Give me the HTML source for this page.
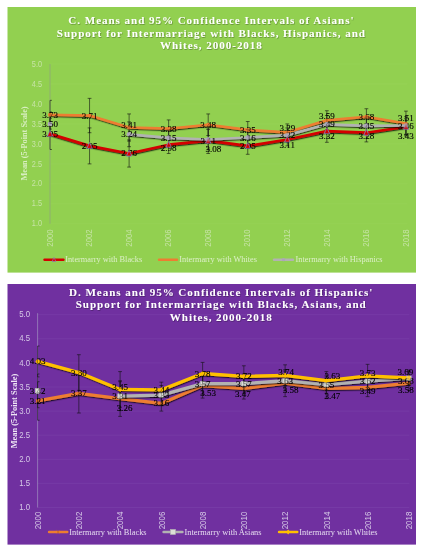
<!DOCTYPE html>
<html><head><meta charset="utf-8"><title>Intermarriage support charts</title>
<style>
html,body{margin:0;padding:0;background:#fff}
body{width:423px;height:550px;overflow:hidden}
svg{display:block}
</style></head>
<body>
<svg width="423" height="550" viewBox="0 0 423 550">
<defs>
<filter id="lsh" filterUnits="userSpaceOnUse" x="0" y="0" width="423" height="550"><feDropShadow dx="0.5" dy="1.2" stdDeviation="0.5" flood-color="#000" flood-opacity="0.7"/></filter>
<filter id="tsh" filterUnits="userSpaceOnUse" x="0" y="0" width="423" height="550"><feDropShadow dx="0.6" dy="0.8" stdDeviation="0.5" flood-color="#000" flood-opacity="0.35"/></filter>
</defs>
<rect x="0" y="0" width="423" height="550" fill="#fff"/>
<rect x="7.5" y="7" width="408.5" height="265.6" fill="#92d050"/>
<rect x="7.5" y="284" width="408.5" height="260.6" fill="#7030a0"/>
<g id="chartC">
<line x1="50" x2="407.45" y1="223.8" y2="223.8" stroke="#98d459" stroke-width="0.6"/>
<line x1="50" x2="407.45" y1="203.83" y2="203.83" stroke="#98d459" stroke-width="0.6"/>
<line x1="50" x2="407.45" y1="183.85" y2="183.85" stroke="#98d459" stroke-width="0.6"/>
<line x1="50" x2="407.45" y1="163.88" y2="163.88" stroke="#98d459" stroke-width="0.6"/>
<line x1="50" x2="407.45" y1="143.9" y2="143.9" stroke="#98d459" stroke-width="0.6"/>
<line x1="50" x2="407.45" y1="123.93" y2="123.93" stroke="#98d459" stroke-width="0.6"/>
<line x1="50" x2="407.45" y1="103.95" y2="103.95" stroke="#98d459" stroke-width="0.6"/>
<line x1="50" x2="407.45" y1="83.97" y2="83.97" stroke="#98d459" stroke-width="0.6"/>
<line x1="50" x2="407.45" y1="64" y2="64" stroke="#98d459" stroke-width="0.6"/>
<line x1="50" x2="50" y1="64" y2="223.8" stroke="#8fa678" stroke-width="0.8"/>
<text transform="translate(42,226.43) scale(1,1.12)" text-anchor="end" font-family="Liberation Sans, sans-serif" font-size="7.3" fill="#c6e3a5">1.0</text>
<text transform="translate(42,206.45) scale(1,1.12)" text-anchor="end" font-family="Liberation Sans, sans-serif" font-size="7.3" fill="#c6e3a5">1.5</text>
<text transform="translate(42,186.48) scale(1,1.12)" text-anchor="end" font-family="Liberation Sans, sans-serif" font-size="7.3" fill="#c6e3a5">2.0</text>
<text transform="translate(42,166.5) scale(1,1.12)" text-anchor="end" font-family="Liberation Sans, sans-serif" font-size="7.3" fill="#c6e3a5">2.5</text>
<text transform="translate(42,146.53) scale(1,1.12)" text-anchor="end" font-family="Liberation Sans, sans-serif" font-size="7.3" fill="#c6e3a5">3.0</text>
<text transform="translate(42,126.55) scale(1,1.12)" text-anchor="end" font-family="Liberation Sans, sans-serif" font-size="7.3" fill="#c6e3a5">3.5</text>
<text transform="translate(42,106.58) scale(1,1.12)" text-anchor="end" font-family="Liberation Sans, sans-serif" font-size="7.3" fill="#c6e3a5">4.0</text>
<text transform="translate(42,86.6) scale(1,1.12)" text-anchor="end" font-family="Liberation Sans, sans-serif" font-size="7.3" fill="#c6e3a5">4.5</text>
<text transform="translate(42,66.63) scale(1,1.12)" text-anchor="end" font-family="Liberation Sans, sans-serif" font-size="7.3" fill="#c6e3a5">5.0</text>
<text transform="translate(52.67,229.3) rotate(-90) scale(1,1.1)" text-anchor="end" font-family="Liberation Sans, sans-serif" font-size="7.8" fill="#c6e3a5">2000</text>
<text transform="translate(92.22,229.3) rotate(-90) scale(1,1.1)" text-anchor="end" font-family="Liberation Sans, sans-serif" font-size="7.8" fill="#c6e3a5">2002</text>
<text transform="translate(131.77,229.3) rotate(-90) scale(1,1.1)" text-anchor="end" font-family="Liberation Sans, sans-serif" font-size="7.8" fill="#c6e3a5">2004</text>
<text transform="translate(171.32,229.3) rotate(-90) scale(1,1.1)" text-anchor="end" font-family="Liberation Sans, sans-serif" font-size="7.8" fill="#c6e3a5">2006</text>
<text transform="translate(210.87,229.3) rotate(-90) scale(1,1.1)" text-anchor="end" font-family="Liberation Sans, sans-serif" font-size="7.8" fill="#c6e3a5">2008</text>
<text transform="translate(250.42,229.3) rotate(-90) scale(1,1.1)" text-anchor="end" font-family="Liberation Sans, sans-serif" font-size="7.8" fill="#c6e3a5">2010</text>
<text transform="translate(289.97,229.3) rotate(-90) scale(1,1.1)" text-anchor="end" font-family="Liberation Sans, sans-serif" font-size="7.8" fill="#c6e3a5">2012</text>
<text transform="translate(329.52,229.3) rotate(-90) scale(1,1.1)" text-anchor="end" font-family="Liberation Sans, sans-serif" font-size="7.8" fill="#c6e3a5">2014</text>
<text transform="translate(369.07,229.3) rotate(-90) scale(1,1.1)" text-anchor="end" font-family="Liberation Sans, sans-serif" font-size="7.8" fill="#c6e3a5">2016</text>
<text transform="translate(408.62,229.3) rotate(-90) scale(1,1.1)" text-anchor="end" font-family="Liberation Sans, sans-serif" font-size="7.8" fill="#c6e3a5">2018</text>
<text transform="translate(27,143.5) rotate(-90)" text-anchor="middle" font-family="Liberation Serif, serif" font-weight="bold" font-size="8.3" fill="#d8eec0">Mean (5-Point Scale)</text>
<text x="211.4" y="24.2" text-anchor="middle" font-family="Liberation Serif, serif" font-weight="bold" font-size="11.06" letter-spacing="0.96" fill="#fff" filter="url(#tsh)">C. Means and 95% Confidence Intervals of Asians'</text>
<text x="211.4" y="36.7" text-anchor="middle" font-family="Liberation Serif, serif" font-weight="bold" font-size="11.06" letter-spacing="0.96" fill="#fff" filter="url(#tsh)">Support for Intermarriage with Blacks, Hispanics, and</text>
<text x="211.4" y="49.2" text-anchor="middle" font-family="Liberation Serif, serif" font-weight="bold" font-size="11.06" letter-spacing="0.96" fill="#fff" filter="url(#tsh)">Whites, 2000-2018</text>
<g filter="url(#lsh)"><polyline points="50,133.91 89.55,145.9 129.1,153.49 168.65,144.7 208.2,140.7 247.75,145.9 287.3,139.51 326.85,131.12 366.4,132.71 405.95,126.72" fill="none" stroke="#d40000" stroke-width="2.7" stroke-linejoin="round" stroke-linecap="round"/></g>
<path d="M50 118.33V149.49M50 118.33H51.9M50 149.49H51.9M89.55 127.92V163.88M87.65 127.92H91.45M87.65 163.88H91.45M129.1 139.91V167.07M127.2 139.91H131M127.2 167.07H131M168.65 135.91V153.49M166.75 135.91H170.55M166.75 153.49H170.55M208.2 127.92V153.49M206.3 127.92H210.1M206.3 153.49H210.1M247.75 137.51V154.29M245.85 137.51H249.65M245.85 154.29H249.65M287.3 133.11V145.9M285.4 133.11H289.2M285.4 145.9H289.2M326.85 119.93V142.3M324.95 119.93H328.75M324.95 142.3H328.75M366.4 123.53V141.9M364.5 123.53H368.3M364.5 141.9H368.3M405.95 118.73V134.71M404.05 118.73H407.85M404.05 134.71H407.85" stroke="#111" stroke-width="0.6" fill="none"/>
<g><path d="M50 130.66L52.6 136.38H47.4Z" fill="#e00000" stroke="#7d92d4" stroke-width="0.6"/><path d="M89.55 142.65L92.15 148.37H86.95Z" fill="#e00000" stroke="#7d92d4" stroke-width="0.6"/><path d="M129.1 150.24L131.7 155.96H126.5Z" fill="#e00000" stroke="#7d92d4" stroke-width="0.6"/><path d="M168.65 141.45L171.25 147.17H166.05Z" fill="#e00000" stroke="#7d92d4" stroke-width="0.6"/><path d="M208.2 137.45L210.8 143.17H205.6Z" fill="#e00000" stroke="#7d92d4" stroke-width="0.6"/><path d="M247.75 142.65L250.35 148.37H245.15Z" fill="#e00000" stroke="#7d92d4" stroke-width="0.6"/><path d="M287.3 136.26L289.9 141.98H284.7Z" fill="#e00000" stroke="#7d92d4" stroke-width="0.6"/><path d="M326.85 127.87L329.45 133.59H324.25Z" fill="#e00000" stroke="#7d92d4" stroke-width="0.6"/><path d="M366.4 129.46L369 135.18H363.8Z" fill="#e00000" stroke="#7d92d4" stroke-width="0.6"/><path d="M405.95 123.47L408.55 129.19H403.35Z" fill="#e00000" stroke="#7d92d4" stroke-width="0.6"/></g>
<g filter="url(#lsh)"><polyline points="50,114.74 89.55,115.54 129.1,127.52 168.65,128.72 208.2,124.72 247.75,129.92 287.3,132.31 326.85,120.33 366.4,116.73 405.95,123.53" fill="none" stroke="#ed7d31" stroke-width="2.7" stroke-linejoin="round" stroke-linecap="round"/></g>
<path d="M50 100.35V129.12M50 100.35H51.9M50 129.12H51.9M89.55 98.36V132.71M87.65 98.36H91.45M87.65 132.71H91.45M129.1 113.94V141.1M127.2 113.94H131M127.2 141.1H131M168.65 119.93V137.51M166.75 119.93H170.55M166.75 137.51H170.55M208.2 113.94V135.51M206.3 113.94H210.1M206.3 135.51H210.1M247.75 121.53V138.31M245.85 121.53H249.65M245.85 138.31H249.65M287.3 123.93V140.7M285.4 123.93H289.2M285.4 140.7H289.2M326.85 110.74V129.92M324.95 110.74H328.75M324.95 129.92H328.75M366.4 108.74V124.72M364.5 108.74H368.3M364.5 124.72H368.3M405.95 111.14V135.91M404.05 111.14H407.85M404.05 135.91H407.85" stroke="#111" stroke-width="0.6" fill="none"/>
<g><circle cx="50" cy="114.74" r="1.9" fill="#ed7d31"/><circle cx="89.55" cy="115.54" r="1.9" fill="#ed7d31"/><circle cx="129.1" cy="127.52" r="1.9" fill="#ed7d31"/><circle cx="168.65" cy="128.72" r="1.9" fill="#ed7d31"/><circle cx="208.2" cy="124.72" r="1.9" fill="#ed7d31"/><circle cx="247.75" cy="129.92" r="1.9" fill="#ed7d31"/><circle cx="287.3" cy="132.31" r="1.9" fill="#ed7d31"/><circle cx="326.85" cy="120.33" r="1.9" fill="#ed7d31"/><circle cx="366.4" cy="116.73" r="1.9" fill="#ed7d31"/><circle cx="405.95" cy="123.53" r="1.9" fill="#ed7d31"/></g>
<g filter="url(#lsh)"><polyline points="129.1,134.31 168.65,137.91 208.2,139.51 247.75,137.51 287.3,135.11 326.85,124.32 366.4,125.92 405.95,125.52" fill="none" stroke="#b2b2b2" stroke-width="2.7" stroke-linejoin="round" stroke-linecap="round"/></g>
<path d="M50 111.94V135.91M50 111.94H51.9M50 135.91H51.9M129.1 121.93V146.7M127.2 121.93H131M127.2 146.7H131M168.65 129.92V145.9M166.75 129.92H170.55M166.75 145.9H170.55M208.2 129.52V149.49M206.3 129.52H210.1M206.3 149.49H210.1M247.75 129.52V145.5M245.85 129.52H249.65M245.85 145.5H249.65M287.3 127.92V142.3M285.4 127.92H289.2M285.4 142.3H289.2M326.85 115.54V133.11M324.95 115.54H328.75M324.95 133.11H328.75M366.4 117.93V133.91M364.5 117.93H368.3M364.5 133.91H368.3M405.95 116.73V134.31M404.05 116.73H407.85M404.05 134.31H407.85" stroke="#111" stroke-width="0.6" fill="none"/>
<g><circle cx="50" cy="123.93" r="2.3" fill="#aca6b8"/><circle cx="129.1" cy="134.31" r="2.3" fill="#aca6b8"/><circle cx="168.65" cy="137.91" r="2.3" fill="#aca6b8"/><circle cx="208.2" cy="139.51" r="2.3" fill="#aca6b8"/><circle cx="247.75" cy="137.51" r="2.3" fill="#aca6b8"/><circle cx="287.3" cy="135.11" r="2.3" fill="#aca6b8"/><circle cx="326.85" cy="124.32" r="2.3" fill="#aca6b8"/><circle cx="366.4" cy="125.92" r="2.3" fill="#aca6b8"/><circle cx="405.95" cy="125.52" r="2.3" fill="#aca6b8"/></g>
<text x="50" y="136.91" text-anchor="middle" font-family="Liberation Serif, serif" font-size="9" fill="#000" stroke="#000" stroke-width="0.12">3.25</text>
<text x="89.55" y="148.9" text-anchor="middle" font-family="Liberation Serif, serif" font-size="9" fill="#000" stroke="#000" stroke-width="0.12">2.95</text>
<text x="129.1" y="156.49" text-anchor="middle" font-family="Liberation Serif, serif" font-size="9" fill="#000" stroke="#000" stroke-width="0.12">2.76</text>
<text x="168.65" y="150.7" text-anchor="middle" font-family="Liberation Serif, serif" font-size="9" fill="#000" stroke="#000" stroke-width="0.12">2.98</text>
<text x="213.4" y="151.7" text-anchor="middle" font-family="Liberation Serif, serif" font-size="9" fill="#000" stroke="#000" stroke-width="0.12">3.08</text>
<text x="247.75" y="148.9" text-anchor="middle" font-family="Liberation Serif, serif" font-size="9" fill="#000" stroke="#000" stroke-width="0.12">2.95</text>
<text x="287.3" y="147.81" text-anchor="middle" font-family="Liberation Serif, serif" font-size="9" fill="#000" stroke="#000" stroke-width="0.12">3.11</text>
<text x="326.85" y="138.72" text-anchor="middle" font-family="Liberation Serif, serif" font-size="9" fill="#000" stroke="#000" stroke-width="0.12">3.32</text>
<text x="366.4" y="138.71" text-anchor="middle" font-family="Liberation Serif, serif" font-size="9" fill="#000" stroke="#000" stroke-width="0.12">3.28</text>
<text x="405.95" y="138.72" text-anchor="middle" font-family="Liberation Serif, serif" font-size="9" fill="#000" stroke="#000" stroke-width="0.12">3.43</text>
<text x="50" y="117.74" text-anchor="middle" font-family="Liberation Serif, serif" font-size="9" fill="#000" stroke="#000" stroke-width="0.12">3.73</text>
<text x="89.55" y="118.54" text-anchor="middle" font-family="Liberation Serif, serif" font-size="9" fill="#000" stroke="#000" stroke-width="0.12">3.71</text>
<text x="129.1" y="127.52" text-anchor="middle" font-family="Liberation Serif, serif" font-size="9" fill="#000" stroke="#000" stroke-width="0.12">3.41</text>
<text x="168.65" y="131.72" text-anchor="middle" font-family="Liberation Serif, serif" font-size="9" fill="#000" stroke="#000" stroke-width="0.12">3.38</text>
<text x="208.2" y="127.72" text-anchor="middle" font-family="Liberation Serif, serif" font-size="9" fill="#000" stroke="#000" stroke-width="0.12">3.48</text>
<text x="247.75" y="132.92" text-anchor="middle" font-family="Liberation Serif, serif" font-size="9" fill="#000" stroke="#000" stroke-width="0.12">3.35</text>
<text x="287.3" y="130.91" text-anchor="middle" font-family="Liberation Serif, serif" font-size="9" fill="#000" stroke="#000" stroke-width="0.12">3.29</text>
<text x="326.85" y="119.03" text-anchor="middle" font-family="Liberation Serif, serif" font-size="9" fill="#000" stroke="#000" stroke-width="0.12">3.59</text>
<text x="366.4" y="119.73" text-anchor="middle" font-family="Liberation Serif, serif" font-size="9" fill="#000" stroke="#000" stroke-width="0.12">3.68</text>
<text x="405.95" y="120.73" text-anchor="middle" font-family="Liberation Serif, serif" font-size="9" fill="#000" stroke="#000" stroke-width="0.12">3.51</text>
<text x="50" y="126.93" text-anchor="middle" font-family="Liberation Serif, serif" font-size="9" fill="#000" stroke="#000" stroke-width="0.12">3.50</text>
<text x="129.1" y="137.31" text-anchor="middle" font-family="Liberation Serif, serif" font-size="9" fill="#000" stroke="#000" stroke-width="0.12">3.24</text>
<text x="168.65" y="140.91" text-anchor="middle" font-family="Liberation Serif, serif" font-size="9" fill="#000" stroke="#000" stroke-width="0.12">3.15</text>
<text x="208.2" y="143.51" text-anchor="middle" font-family="Liberation Serif, serif" font-size="9" fill="#000" stroke="#000" stroke-width="0.12">3.11</text>
<text x="247.75" y="140.51" text-anchor="middle" font-family="Liberation Serif, serif" font-size="9" fill="#000" stroke="#000" stroke-width="0.12">3.16</text>
<text x="287.3" y="138.11" text-anchor="middle" font-family="Liberation Serif, serif" font-size="9" fill="#000" stroke="#000" stroke-width="0.12">3.22</text>
<text x="326.85" y="127.32" text-anchor="middle" font-family="Liberation Serif, serif" font-size="9" fill="#000" stroke="#000" stroke-width="0.12">3.49</text>
<text x="366.4" y="128.92" text-anchor="middle" font-family="Liberation Serif, serif" font-size="9" fill="#000" stroke="#000" stroke-width="0.12">3.45</text>
<text x="405.95" y="128.52" text-anchor="middle" font-family="Liberation Serif, serif" font-size="9" fill="#000" stroke="#000" stroke-width="0.12">3.46</text>
<g opacity="0.9"><path d="M50 130.66L52.6 136.38H47.4Z" fill="#e00000" stroke="#7d92d4" stroke-width="0.6"/><path d="M89.55 142.65L92.15 148.37H86.95Z" fill="#e00000" stroke="#7d92d4" stroke-width="0.6"/><path d="M129.1 150.24L131.7 155.96H126.5Z" fill="#e00000" stroke="#7d92d4" stroke-width="0.6"/><path d="M168.65 141.45L171.25 147.17H166.05Z" fill="#e00000" stroke="#7d92d4" stroke-width="0.6"/><path d="M208.2 137.45L210.8 143.17H205.6Z" fill="#e00000" stroke="#7d92d4" stroke-width="0.6"/><path d="M247.75 142.65L250.35 148.37H245.15Z" fill="#e00000" stroke="#7d92d4" stroke-width="0.6"/><path d="M287.3 136.26L289.9 141.98H284.7Z" fill="#e00000" stroke="#7d92d4" stroke-width="0.6"/><path d="M326.85 127.87L329.45 133.59H324.25Z" fill="#e00000" stroke="#7d92d4" stroke-width="0.6"/><path d="M366.4 129.46L369 135.18H363.8Z" fill="#e00000" stroke="#7d92d4" stroke-width="0.6"/><path d="M405.95 123.47L408.55 129.19H403.35Z" fill="#e00000" stroke="#7d92d4" stroke-width="0.6"/></g>
<g opacity="0.5"><circle cx="50" cy="114.74" r="1.9" fill="#ed7d31"/><circle cx="89.55" cy="115.54" r="1.9" fill="#ed7d31"/><circle cx="129.1" cy="127.52" r="1.9" fill="#ed7d31"/><circle cx="168.65" cy="128.72" r="1.9" fill="#ed7d31"/><circle cx="208.2" cy="124.72" r="1.9" fill="#ed7d31"/><circle cx="247.75" cy="129.92" r="1.9" fill="#ed7d31"/><circle cx="287.3" cy="132.31" r="1.9" fill="#ed7d31"/><circle cx="326.85" cy="120.33" r="1.9" fill="#ed7d31"/><circle cx="366.4" cy="116.73" r="1.9" fill="#ed7d31"/><circle cx="405.95" cy="123.53" r="1.9" fill="#ed7d31"/></g>
<g opacity="0.5"><circle cx="50" cy="123.93" r="2.3" fill="#aca6b8"/><circle cx="129.1" cy="134.31" r="2.3" fill="#aca6b8"/><circle cx="168.65" cy="137.91" r="2.3" fill="#aca6b8"/><circle cx="208.2" cy="139.51" r="2.3" fill="#aca6b8"/><circle cx="247.75" cy="137.51" r="2.3" fill="#aca6b8"/><circle cx="287.3" cy="135.11" r="2.3" fill="#aca6b8"/><circle cx="326.85" cy="124.32" r="2.3" fill="#aca6b8"/><circle cx="366.4" cy="125.92" r="2.3" fill="#aca6b8"/><circle cx="405.95" cy="125.52" r="2.3" fill="#aca6b8"/></g>
<line x1="44.5" x2="63.5" y1="259.7" y2="259.7" stroke="#d40000" stroke-width="2.4" stroke-linecap="round"/><path d="M54 257.36L55.87 261.48H52.13Z" fill="#e00000" stroke="#7d92d4" stroke-width="0.6"/>
<text x="65.2" y="262.19" font-family="Liberation Serif, serif" font-size="8.3" fill="#dcefc8">Intermarry with Blacks</text>
<line x1="159" x2="177" y1="259.7" y2="259.7" stroke="#ed7d31" stroke-width="2.4" stroke-linecap="round"/><circle cx="168" cy="259.7" r="0.0" fill="#ed7d31"/>
<text x="179.3" y="262.19" font-family="Liberation Serif, serif" font-size="8.3" fill="#dcefc8">Intermarry with Whites</text>
<line x1="274" x2="293" y1="259.7" y2="259.7" stroke="#b2b2b2" stroke-width="2.4" stroke-linecap="round"/><circle cx="283.5" cy="259.7" r="1.656" fill="#aca6b8"/>
<text x="295.5" y="262.19" font-family="Liberation Serif, serif" font-size="8.3" fill="#dcefc8">Intermarry with Hispanics</text>
</g>
<g id="chartD">
<line x1="37.6" x2="409.35" y1="507.5" y2="507.5" stroke="#7b42a9" stroke-width="0.6"/>
<line x1="37.6" x2="409.35" y1="483.4" y2="483.4" stroke="#7b42a9" stroke-width="0.6"/>
<line x1="37.6" x2="409.35" y1="459.3" y2="459.3" stroke="#7b42a9" stroke-width="0.6"/>
<line x1="37.6" x2="409.35" y1="435.2" y2="435.2" stroke="#7b42a9" stroke-width="0.6"/>
<line x1="37.6" x2="409.35" y1="411.1" y2="411.1" stroke="#7b42a9" stroke-width="0.6"/>
<line x1="37.6" x2="409.35" y1="387" y2="387" stroke="#7b42a9" stroke-width="0.6"/>
<line x1="37.6" x2="409.35" y1="362.9" y2="362.9" stroke="#7b42a9" stroke-width="0.6"/>
<line x1="37.6" x2="409.35" y1="338.8" y2="338.8" stroke="#7b42a9" stroke-width="0.6"/>
<line x1="37.6" x2="409.35" y1="314.7" y2="314.7" stroke="#7b42a9" stroke-width="0.6"/>
<line x1="37.6" x2="37.6" y1="313.2" y2="507.5" stroke="#9a84bb" stroke-width="0.8"/>
<text transform="translate(30,510.11) scale(1,1.15)" text-anchor="end" font-family="Liberation Sans, sans-serif" font-size="7.8" fill="#d6c9e6">1.0</text>
<text transform="translate(30,486.01) scale(1,1.15)" text-anchor="end" font-family="Liberation Sans, sans-serif" font-size="7.8" fill="#d6c9e6">1.5</text>
<text transform="translate(30,461.91) scale(1,1.15)" text-anchor="end" font-family="Liberation Sans, sans-serif" font-size="7.8" fill="#d6c9e6">2.0</text>
<text transform="translate(30,437.81) scale(1,1.15)" text-anchor="end" font-family="Liberation Sans, sans-serif" font-size="7.8" fill="#d6c9e6">2.5</text>
<text transform="translate(30,413.71) scale(1,1.15)" text-anchor="end" font-family="Liberation Sans, sans-serif" font-size="7.8" fill="#d6c9e6">3.0</text>
<text transform="translate(30,389.61) scale(1,1.15)" text-anchor="end" font-family="Liberation Sans, sans-serif" font-size="7.8" fill="#d6c9e6">3.5</text>
<text transform="translate(30,365.51) scale(1,1.15)" text-anchor="end" font-family="Liberation Sans, sans-serif" font-size="7.8" fill="#d6c9e6">4.0</text>
<text transform="translate(30,341.41) scale(1,1.15)" text-anchor="end" font-family="Liberation Sans, sans-serif" font-size="7.8" fill="#d6c9e6">4.5</text>
<text transform="translate(30,317.31) scale(1,1.15)" text-anchor="end" font-family="Liberation Sans, sans-serif" font-size="7.8" fill="#d6c9e6">5.0</text>
<text transform="translate(40.75,511.7) rotate(-90) scale(1,1.08)" text-anchor="end" font-family="Liberation Sans, sans-serif" font-size="7.9" fill="#d6c9e6">2000</text>
<text transform="translate(82,511.7) rotate(-90) scale(1,1.08)" text-anchor="end" font-family="Liberation Sans, sans-serif" font-size="7.9" fill="#d6c9e6">2002</text>
<text transform="translate(123.25,511.7) rotate(-90) scale(1,1.08)" text-anchor="end" font-family="Liberation Sans, sans-serif" font-size="7.9" fill="#d6c9e6">2004</text>
<text transform="translate(164.5,511.7) rotate(-90) scale(1,1.08)" text-anchor="end" font-family="Liberation Sans, sans-serif" font-size="7.9" fill="#d6c9e6">2006</text>
<text transform="translate(205.75,511.7) rotate(-90) scale(1,1.08)" text-anchor="end" font-family="Liberation Sans, sans-serif" font-size="7.9" fill="#d6c9e6">2008</text>
<text transform="translate(247,511.7) rotate(-90) scale(1,1.08)" text-anchor="end" font-family="Liberation Sans, sans-serif" font-size="7.9" fill="#d6c9e6">2010</text>
<text transform="translate(288.25,511.7) rotate(-90) scale(1,1.08)" text-anchor="end" font-family="Liberation Sans, sans-serif" font-size="7.9" fill="#d6c9e6">2012</text>
<text transform="translate(329.5,511.7) rotate(-90) scale(1,1.08)" text-anchor="end" font-family="Liberation Sans, sans-serif" font-size="7.9" fill="#d6c9e6">2014</text>
<text transform="translate(370.75,511.7) rotate(-90) scale(1,1.08)" text-anchor="end" font-family="Liberation Sans, sans-serif" font-size="7.9" fill="#d6c9e6">2016</text>
<text transform="translate(412,511.7) rotate(-90) scale(1,1.08)" text-anchor="end" font-family="Liberation Sans, sans-serif" font-size="7.9" fill="#d6c9e6">2018</text>
<text transform="translate(17.2,411) rotate(-90)" text-anchor="middle" font-family="Liberation Serif, serif" font-weight="bold" font-size="8.35" fill="#eee6f5">Mean (5-Point Scale)</text>
<text x="221.2" y="295.8" text-anchor="middle" font-family="Liberation Serif, serif" font-weight="bold" font-size="11.06" letter-spacing="0.96" fill="#fff" filter="url(#tsh)">D. Means and 95% Confidence Intervals of Hispanics'</text>
<text x="221.2" y="308.3" text-anchor="middle" font-family="Liberation Serif, serif" font-weight="bold" font-size="11.06" letter-spacing="0.96" fill="#fff" filter="url(#tsh)">Support for Intermarriage with Blacks, Asians, and</text>
<text x="221.2" y="320.8" text-anchor="middle" font-family="Liberation Serif, serif" font-weight="bold" font-size="11.06" letter-spacing="0.96" fill="#fff" filter="url(#tsh)">Whites, 2000-2018</text>
<g filter="url(#lsh)"><polyline points="37.6,400.98 78.85,393.27 120.1,398.57 161.35,403.39 202.6,385.55 243.85,388.45 285.1,383.14 326.35,388.45 367.6,387.48 408.85,383.14" fill="none" stroke="#ed7d31" stroke-width="3.3" stroke-linejoin="round" stroke-linecap="round"/></g>
<path d="M37.6 381.7V420.26M37.6 381.7H39.5M37.6 420.26H39.5M78.85 373.5V413.03M76.95 373.5H80.75M76.95 413.03H80.75M120.1 380.73V416.4M118.2 380.73H122M118.2 416.4H122M161.35 395.68V411.1M159.45 395.68H163.25M159.45 411.1H163.25M202.6 373.02V398.09M200.7 373.02H204.5M200.7 398.09H204.5M243.85 377.84V399.05M241.95 377.84H245.75M241.95 399.05H245.75M285.1 369.65V396.64M283.2 369.65H287M283.2 396.64H287M326.35 378.32V398.57M324.45 378.32H328.25M324.45 398.57H328.25M367.6 378.32V396.64M365.7 378.32H369.5M365.7 396.64H369.5M408.85 375.91V390.37M406.95 375.91H410.75M406.95 390.37H410.75" stroke="#111" stroke-width="0.6" fill="none"/>
<g><path d="M35.9 399.28L39.3 402.68M35.9 402.68L39.3 399.28" stroke="#c9651f" stroke-width="0.7" fill="none"/><path d="M77.15 391.57L80.55 394.97M77.15 394.97L80.55 391.57" stroke="#c9651f" stroke-width="0.7" fill="none"/><path d="M118.4 396.87L121.8 400.27M118.4 400.27L121.8 396.87" stroke="#c9651f" stroke-width="0.7" fill="none"/><path d="M159.65 401.69L163.05 405.09M159.65 405.09L163.05 401.69" stroke="#c9651f" stroke-width="0.7" fill="none"/><path d="M200.9 383.85L204.3 387.25M200.9 387.25L204.3 383.85" stroke="#c9651f" stroke-width="0.7" fill="none"/><path d="M242.15 386.75L245.55 390.15M242.15 390.15L245.55 386.75" stroke="#c9651f" stroke-width="0.7" fill="none"/><path d="M283.4 381.44L286.8 384.84M283.4 384.84L286.8 381.44" stroke="#c9651f" stroke-width="0.7" fill="none"/><path d="M324.65 386.75L328.05 390.15M324.65 390.15L328.05 386.75" stroke="#c9651f" stroke-width="0.7" fill="none"/><path d="M365.9 385.78L369.3 389.18M365.9 389.18L369.3 385.78" stroke="#c9651f" stroke-width="0.7" fill="none"/><path d="M407.15 381.44L410.55 384.84M407.15 384.84L410.55 381.44" stroke="#c9651f" stroke-width="0.7" fill="none"/></g>
<g filter="url(#lsh)"><polyline points="120.1,396.16 161.35,395.19 202.6,383.63 243.85,383.63 285.1,380.73 326.35,384.59 367.6,381.22 408.85,378.32" fill="none" stroke="#b2b2b2" stroke-width="3.3" stroke-linejoin="round" stroke-linecap="round"/></g>
<path d="M37.6 373.99V407.73M37.6 373.99H39.5M37.6 407.73H39.5M120.1 381.7V410.62M118.2 381.7H122M118.2 410.62H122M161.35 385.55V404.83M159.45 385.55H163.25M159.45 404.83H163.25M202.6 373.02V394.23M200.7 373.02H204.5M200.7 394.23H204.5M243.85 373.99V393.27M241.95 373.99H245.75M241.95 393.27H245.75M285.1 371.09V390.37M283.2 371.09H287M283.2 390.37H287M326.35 375.91V393.27M324.45 375.91H328.25M324.45 393.27H328.25M367.6 372.54V389.89M365.7 372.54H369.5M365.7 389.89H369.5M408.85 371.58V385.07M406.95 371.58H410.75M406.95 385.07H410.75" stroke="#111" stroke-width="0.6" fill="none"/>
<g><rect x="35.3" y="388.56" width="4.6" height="4.6" fill="#dcdfd6" stroke="#b2b2b2" stroke-width="0.6"/><rect x="117.8" y="393.86" width="4.6" height="4.6" fill="#dcdfd6" stroke="#b2b2b2" stroke-width="0.6"/><rect x="159.05" y="392.89" width="4.6" height="4.6" fill="#dcdfd6" stroke="#b2b2b2" stroke-width="0.6"/><rect x="200.3" y="381.33" width="4.6" height="4.6" fill="#dcdfd6" stroke="#b2b2b2" stroke-width="0.6"/><rect x="241.55" y="381.33" width="4.6" height="4.6" fill="#dcdfd6" stroke="#b2b2b2" stroke-width="0.6"/><rect x="282.8" y="378.43" width="4.6" height="4.6" fill="#dcdfd6" stroke="#b2b2b2" stroke-width="0.6"/><rect x="324.05" y="382.29" width="4.6" height="4.6" fill="#dcdfd6" stroke="#b2b2b2" stroke-width="0.6"/><rect x="365.3" y="378.92" width="4.6" height="4.6" fill="#dcdfd6" stroke="#b2b2b2" stroke-width="0.6"/><rect x="406.55" y="376.02" width="4.6" height="4.6" fill="#dcdfd6" stroke="#b2b2b2" stroke-width="0.6"/></g>
<g filter="url(#lsh)"><polyline points="37.6,361.45 78.85,372.54 120.1,389.41 161.35,389.89 202.6,373.5 243.85,376.4 285.1,375.43 326.35,380.73 367.6,375.91 408.85,377.84" fill="none" stroke="#ffc000" stroke-width="3.3" stroke-linejoin="round" stroke-linecap="round"/></g>
<path d="M37.6 346.03V376.88M37.6 346.03H39.5M37.6 376.88H39.5M78.85 354.71V390.37M76.95 354.71H80.75M76.95 390.37H80.75M120.1 371.58V407.24M118.2 371.58H122M118.2 407.24H122M161.35 382.18V397.6M159.45 382.18H163.25M159.45 397.6H163.25M202.6 362.42V384.59M200.7 362.42H204.5M200.7 384.59H204.5M243.85 365.79V387M241.95 365.79H245.75M241.95 387H245.75M285.1 364.83V386.04M283.2 364.83H287M283.2 386.04H287M326.35 371.58V389.89M324.45 371.58H328.25M324.45 389.89H328.25M367.6 364.35V387.48M365.7 364.35H369.5M365.7 387.48H369.5M408.85 370.61V385.07M406.95 370.61H410.75M406.95 385.07H410.75" stroke="#111" stroke-width="0.6" fill="none"/>
<g><path d="M37.6 358.85L39.68 361.45L37.6 364.05L35.52 361.45Z" fill="#ffc000"/><path d="M78.85 369.94L80.93 372.54L78.85 375.14L76.77 372.54Z" fill="#ffc000"/><path d="M120.1 386.81L122.18 389.41L120.1 392.01L118.02 389.41Z" fill="#ffc000"/><path d="M161.35 387.29L163.43 389.89L161.35 392.49L159.27 389.89Z" fill="#ffc000"/><path d="M202.6 370.9L204.68 373.5L202.6 376.1L200.52 373.5Z" fill="#ffc000"/><path d="M243.85 373.8L245.93 376.4L243.85 379L241.77 376.4Z" fill="#ffc000"/><path d="M285.1 372.83L287.18 375.43L285.1 378.03L283.02 375.43Z" fill="#ffc000"/><path d="M326.35 378.13L328.43 380.73L326.35 383.33L324.27 380.73Z" fill="#ffc000"/><path d="M367.6 373.31L369.68 375.91L367.6 378.51L365.52 375.91Z" fill="#ffc000"/><path d="M408.85 375.24L410.93 377.84L408.85 380.44L406.77 377.84Z" fill="#ffc000"/></g>
<text x="37.6" y="403.98" text-anchor="middle" font-family="Liberation Serif, serif" font-size="9" fill="#000" stroke="#000" stroke-width="0.12">3.21</text>
<text x="78.85" y="396.27" text-anchor="middle" font-family="Liberation Serif, serif" font-size="9" fill="#000" stroke="#000" stroke-width="0.12">3.37</text>
<text x="124.6" y="411.27" text-anchor="middle" font-family="Liberation Serif, serif" font-size="9" fill="#000" stroke="#000" stroke-width="0.12">3.26</text>
<text x="161.35" y="406.39" text-anchor="middle" font-family="Liberation Serif, serif" font-size="9" fill="#000" stroke="#000" stroke-width="0.12">3.16</text>
<text x="208" y="395.55" text-anchor="middle" font-family="Liberation Serif, serif" font-size="9" fill="#000" stroke="#000" stroke-width="0.12">3.53</text>
<text x="242.85" y="397.05" text-anchor="middle" font-family="Liberation Serif, serif" font-size="9" fill="#000" stroke="#000" stroke-width="0.12">3.47</text>
<text x="290.7" y="393.14" text-anchor="middle" font-family="Liberation Serif, serif" font-size="9" fill="#000" stroke="#000" stroke-width="0.12">3.58</text>
<text x="332.35" y="398.75" text-anchor="middle" font-family="Liberation Serif, serif" font-size="9" fill="#000" stroke="#000" stroke-width="0.12">3.47</text>
<text x="367.6" y="393.98" text-anchor="middle" font-family="Liberation Serif, serif" font-size="9" fill="#000" stroke="#000" stroke-width="0.12">3.49</text>
<text x="405.85" y="393.14" text-anchor="middle" font-family="Liberation Serif, serif" font-size="9" fill="#000" stroke="#000" stroke-width="0.12">3.58</text>
<text x="37.6" y="393.86" text-anchor="middle" font-family="Liberation Serif, serif" font-size="9" fill="#000" stroke="#000" stroke-width="0.12">3.42</text>
<text x="120.1" y="399.16" text-anchor="middle" font-family="Liberation Serif, serif" font-size="9" fill="#000" stroke="#000" stroke-width="0.12">3.31</text>
<text x="161.35" y="398.19" text-anchor="middle" font-family="Liberation Serif, serif" font-size="9" fill="#000" stroke="#000" stroke-width="0.12">3.33</text>
<text x="202.6" y="386.63" text-anchor="middle" font-family="Liberation Serif, serif" font-size="9" fill="#000" stroke="#000" stroke-width="0.12">3.57</text>
<text x="243.85" y="386.63" text-anchor="middle" font-family="Liberation Serif, serif" font-size="9" fill="#000" stroke="#000" stroke-width="0.12">3.57</text>
<text x="285.1" y="383.73" text-anchor="middle" font-family="Liberation Serif, serif" font-size="9" fill="#000" stroke="#000" stroke-width="0.12">3.63</text>
<text x="326.35" y="387.59" text-anchor="middle" font-family="Liberation Serif, serif" font-size="9" fill="#000" stroke="#000" stroke-width="0.12">3.55</text>
<text x="367.6" y="384.22" text-anchor="middle" font-family="Liberation Serif, serif" font-size="9" fill="#000" stroke="#000" stroke-width="0.12">3.62</text>
<text x="405.85" y="383.82" text-anchor="middle" font-family="Liberation Serif, serif" font-size="9" fill="#000" stroke="#000" stroke-width="0.12">3.68</text>
<text x="37.6" y="364.45" text-anchor="middle" font-family="Liberation Serif, serif" font-size="9" fill="#000" stroke="#000" stroke-width="0.12">4.03</text>
<text x="78.85" y="375.54" text-anchor="middle" font-family="Liberation Serif, serif" font-size="9" fill="#000" stroke="#000" stroke-width="0.12">3.80</text>
<text x="120.1" y="390.41" text-anchor="middle" font-family="Liberation Serif, serif" font-size="9" fill="#000" stroke="#000" stroke-width="0.12">3.45</text>
<text x="161.35" y="392.89" text-anchor="middle" font-family="Liberation Serif, serif" font-size="9" fill="#000" stroke="#000" stroke-width="0.12">3.44</text>
<text x="202.6" y="376.5" text-anchor="middle" font-family="Liberation Serif, serif" font-size="9" fill="#000" stroke="#000" stroke-width="0.12">3.78</text>
<text x="243.85" y="379.4" text-anchor="middle" font-family="Liberation Serif, serif" font-size="9" fill="#000" stroke="#000" stroke-width="0.12">3.72</text>
<text x="286.1" y="375.43" text-anchor="middle" font-family="Liberation Serif, serif" font-size="9" fill="#000" stroke="#000" stroke-width="0.12">3.74</text>
<text x="332.35" y="379.03" text-anchor="middle" font-family="Liberation Serif, serif" font-size="9" fill="#000" stroke="#000" stroke-width="0.12">3.63</text>
<text x="367.6" y="375.51" text-anchor="middle" font-family="Liberation Serif, serif" font-size="9" fill="#000" stroke="#000" stroke-width="0.12">3.73</text>
<text x="405.45" y="374.54" text-anchor="middle" font-family="Liberation Serif, serif" font-size="9" fill="#000" stroke="#000" stroke-width="0.12">3.69</text>
<g opacity="0.5"><path d="M35.9 399.28L39.3 402.68M35.9 402.68L39.3 399.28" stroke="#c9651f" stroke-width="0.7" fill="none"/><path d="M77.15 391.57L80.55 394.97M77.15 394.97L80.55 391.57" stroke="#c9651f" stroke-width="0.7" fill="none"/><path d="M118.4 396.87L121.8 400.27M118.4 400.27L121.8 396.87" stroke="#c9651f" stroke-width="0.7" fill="none"/><path d="M159.65 401.69L163.05 405.09M159.65 405.09L163.05 401.69" stroke="#c9651f" stroke-width="0.7" fill="none"/><path d="M200.9 383.85L204.3 387.25M200.9 387.25L204.3 383.85" stroke="#c9651f" stroke-width="0.7" fill="none"/><path d="M242.15 386.75L245.55 390.15M242.15 390.15L245.55 386.75" stroke="#c9651f" stroke-width="0.7" fill="none"/><path d="M283.4 381.44L286.8 384.84M283.4 384.84L286.8 381.44" stroke="#c9651f" stroke-width="0.7" fill="none"/><path d="M324.65 386.75L328.05 390.15M324.65 390.15L328.05 386.75" stroke="#c9651f" stroke-width="0.7" fill="none"/><path d="M365.9 385.78L369.3 389.18M365.9 389.18L369.3 385.78" stroke="#c9651f" stroke-width="0.7" fill="none"/><path d="M407.15 381.44L410.55 384.84M407.15 384.84L410.55 381.44" stroke="#c9651f" stroke-width="0.7" fill="none"/></g>
<g opacity="0.5"><rect x="35.3" y="388.56" width="4.6" height="4.6" fill="#dcdfd6" stroke="#b2b2b2" stroke-width="0.6"/><rect x="117.8" y="393.86" width="4.6" height="4.6" fill="#dcdfd6" stroke="#b2b2b2" stroke-width="0.6"/><rect x="159.05" y="392.89" width="4.6" height="4.6" fill="#dcdfd6" stroke="#b2b2b2" stroke-width="0.6"/><rect x="200.3" y="381.33" width="4.6" height="4.6" fill="#dcdfd6" stroke="#b2b2b2" stroke-width="0.6"/><rect x="241.55" y="381.33" width="4.6" height="4.6" fill="#dcdfd6" stroke="#b2b2b2" stroke-width="0.6"/><rect x="282.8" y="378.43" width="4.6" height="4.6" fill="#dcdfd6" stroke="#b2b2b2" stroke-width="0.6"/><rect x="324.05" y="382.29" width="4.6" height="4.6" fill="#dcdfd6" stroke="#b2b2b2" stroke-width="0.6"/><rect x="365.3" y="378.92" width="4.6" height="4.6" fill="#dcdfd6" stroke="#b2b2b2" stroke-width="0.6"/><rect x="406.55" y="376.02" width="4.6" height="4.6" fill="#dcdfd6" stroke="#b2b2b2" stroke-width="0.6"/></g>
<g opacity="0.5"><path d="M37.6 358.85L39.68 361.45L37.6 364.05L35.52 361.45Z" fill="#ffc000"/><path d="M78.85 369.94L80.93 372.54L78.85 375.14L76.77 372.54Z" fill="#ffc000"/><path d="M120.1 386.81L122.18 389.41L120.1 392.01L118.02 389.41Z" fill="#ffc000"/><path d="M161.35 387.29L163.43 389.89L161.35 392.49L159.27 389.89Z" fill="#ffc000"/><path d="M202.6 370.9L204.68 373.5L202.6 376.1L200.52 373.5Z" fill="#ffc000"/><path d="M243.85 373.8L245.93 376.4L243.85 379L241.77 376.4Z" fill="#ffc000"/><path d="M285.1 372.83L287.18 375.43L285.1 378.03L283.02 375.43Z" fill="#ffc000"/><path d="M326.35 378.13L328.43 380.73L326.35 383.33L324.27 380.73Z" fill="#ffc000"/><path d="M367.6 373.31L369.68 375.91L367.6 378.51L365.52 375.91Z" fill="#ffc000"/><path d="M408.85 375.24L410.93 377.84L408.85 380.44L406.77 377.84Z" fill="#ffc000"/></g>
<line x1="49" x2="67.3" y1="532" y2="532" stroke="#ed7d31" stroke-width="2.4" stroke-linecap="round"/><path d="M56.45 530.3L59.85 533.7M56.45 533.7L59.85 530.3" stroke="#c9651f" stroke-width="0.7" fill="none"/>
<text x="69.2" y="534.5" font-family="Liberation Serif, serif" font-size="8.35" fill="#e6dcf0">Intermarry with Blacks</text>
<line x1="163.5" x2="182.5" y1="532" y2="532" stroke="#b2b2b2" stroke-width="2.4" stroke-linecap="round"/><rect x="170.47" y="529.47" width="5.06" height="5.06" fill="#dcdfd6" stroke="#b2b2b2" stroke-width="0.6"/>
<text x="184.6" y="534.5" font-family="Liberation Serif, serif" font-size="8.35" fill="#e6dcf0">Intermarry with Asians</text>
<line x1="279" x2="297.3" y1="532" y2="532" stroke="#ffc000" stroke-width="2.4" stroke-linecap="round"/><path d="M288.15 529.53L290.13 532L288.15 534.47L286.17 532Z" fill="#ffc000"/>
<text x="299.3" y="534.5" font-family="Liberation Serif, serif" font-size="8.35" fill="#e6dcf0">Intermarry with Whites</text>
</g>
</svg>
</body></html>
